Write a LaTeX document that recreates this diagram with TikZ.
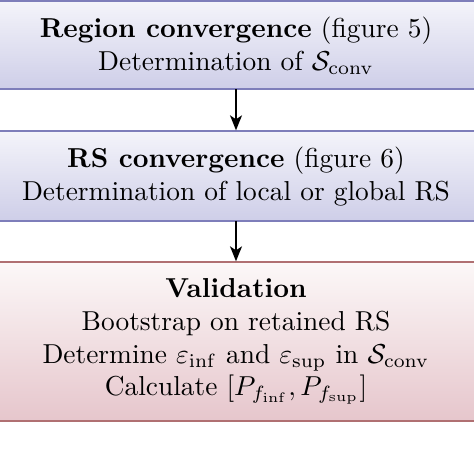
\documentclass[tikz,border=0pt]{standalone}
\usetikzlibrary{arrows.meta}
\definecolor{bluetop}{RGB}{244,244,250}
\definecolor{bluebot}{RGB}{206,206,232}
\definecolor{blueline}{RGB}{126,126,186}
\definecolor{redtop}{RGB}{252,248,248}
\definecolor{redbot}{RGB}{230,198,204}
\definecolor{redline}{RGB}{176,112,114}
\tikzset{
  bluebox/.style={draw=none, minimum width=490pt, inner sep=0pt, top color=bluetop, bottom color=bluebot},
  redbox/.style={draw=none, minimum width=490pt, inner sep=0pt, top color=redtop, bottom color=redbot},
  txt/.style={anchor=base, inner sep=0pt, font=\fontsize{10}{12}\selectfont, scale=2.74, transform shape},
  bline/.style={draw=blueline, line width=2pt},
  rline/.style={draw=redline, line width=2pt},
  flow/.style={draw=black, line width=1.4pt, -{Stealth[length=15pt,width=12pt,inset=4pt]}, shorten >=0.5pt}
}
\begin{document}
\begin{tikzpicture}[x=1pt,y=1pt]
\useasboundingbox (0,0) rectangle (474,-474);
\fill[white] (0,0) rectangle (474,-474);
\coordinate (ax) at (236,0);
% boxes
\node[bluebox, minimum height=88pt] (b1) at (237,-45) {};
\node[bluebox, minimum height=90pt] (b2) at (237,-176) {};
\node[redbox, minimum height=159pt] (b3) at (237,-341.5) {};
\draw[bline] (b1.north west) -- (b1.north east);
\draw[bline] (b1.south west) -- (b1.south east);
\draw[bline] (b2.north west) -- (b2.north east);
\draw[bline] (b2.south west) -- (b2.south east);
\draw[rline] (b3.north west) -- (b3.north east);
\draw[rline] (b3.south west) -- (b3.south east);
% texts
\node[txt] (t11) at (236,-37) {\textbf{Region convergence} (figure 5)};
\node[txt] (t12) at (236,-70) {Determination of $\mathcal{S}_{\mathrm{conv}}$};
\node[txt] (t21) at (236,-167) {\textbf{RS convergence} (figure 6)};
\node[txt] (t22) at (236,-200) {Determination of local or global RS};
\node[txt] (t31) at (236,-297) {\textbf{Validation}};
\node[txt] (t32) at (236,-330) {Bootstrap on retained RS};
\node[txt] (t33) at (236,-363) {Determine $\varepsilon_{\mathrm{inf}}$ and $\varepsilon_{\mathrm{sup}}$ in $\mathcal{S}_{\mathrm{conv}}$};
\node[txt] (t34) at (236,-395) {Calculate $[P_{f_{\mathrm{inf}}},P_{f_{\mathrm{sup}}}]$};
% arrows
\draw[flow] (b1.south -| ax) -- (b2.north -| ax);
\draw[flow] (b2.south -| ax) -- (b3.north -| ax);
\end{tikzpicture}
\end{document}
